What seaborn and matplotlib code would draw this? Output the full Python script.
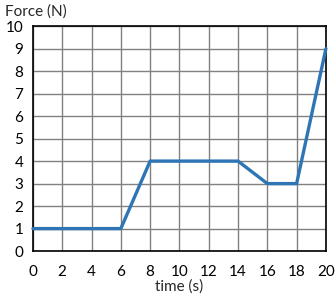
import matplotlib
matplotlib.use("Agg")
import matplotlib.pyplot as plt
import seaborn as sns
import pandas as pd
from matplotlib.ticker import MultipleLocator

time_s = [0, 6, 8, 14, 16, 18, 20]
force_n = [1, 1, 4, 4, 3, 3, 9]
x_ticks = list(range(0, 21, 2))
y_ticks = list(range(0, 11))

sns.set_style("white")
plt.rcParams['font.family'] = ['Lato', 'DejaVu Sans']

df = pd.DataFrame({"time": time_s, "force": force_n})

fig = plt.figure(figsize=(3.36, 3.0), dpi=100)
ax = fig.add_axes([0.098, 0.163, 0.872, 0.750])
sns.lineplot(data=df, x="time", y="force", ax=ax, color="#2E75B6", linewidth=2.4,
             clip_on=False, zorder=5)
ax.set_xlim(0, 20)
ax.set_ylim(0, 10)
ax.set_xticks(x_ticks)
ax.set_yticks(y_ticks)
ax.xaxis.set_minor_locator(MultipleLocator(1))
ax.grid(True, which="major", color="#808080", linewidth=1.0)
ax.set_axisbelow(True)
for s in ax.spines.values():
    s.set_color("black")
    s.set_linewidth(1.2)
ax.tick_params(axis="both", which="major", direction="inout", length=8, width=1.2,
               labelsize=11, colors="black", pad=3)
ax.tick_params(axis="x", which="minor", direction="inout", length=5, width=1.0, colors="black")
ax.tick_params(axis="x", which="major", pad=6)
ax.set_xlabel("time (s)", fontsize=11, labelpad=0)
ax.set_ylabel("")
fig.text(0.015, 0.96, "Force (N)", fontsize=11, ha="left", va="center")
fig.savefig("out.png", dpi=100)
